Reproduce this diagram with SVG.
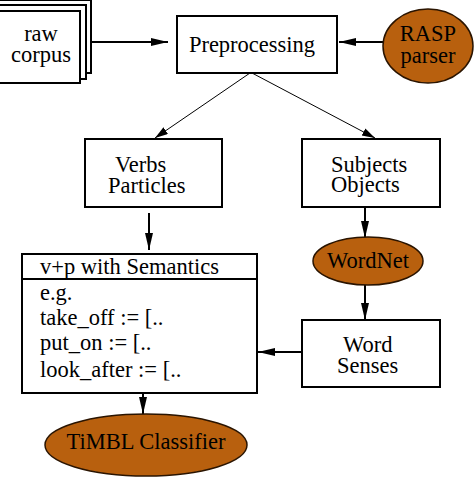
<svg xmlns="http://www.w3.org/2000/svg" width="474" height="477" viewBox="0 0 474 477">
<style>
  .box { fill: #ffffff; stroke: #000000; stroke-width: 2; }
  .ell { fill: #B8600E; stroke: #2a1400; stroke-width: 1.5; }
  text { font-family: Liberation Serif, serif; font-size: 22.5px; fill: #000000; }
  .c { text-anchor: middle; }
  .edge { fill: none; stroke: #000000; stroke-width: 2; }
  .thin { fill: none; stroke: #000000; stroke-width: 1; }
</style>
<defs>
  <marker id="ah" markerUnits="userSpaceOnUse" markerWidth="18" markerHeight="10" refX="17" refY="4" orient="auto">
    <path d="M0,0 L17,4 L0,8 z" fill="#000000"/>
  </marker>
  <marker id="ahs" markerUnits="userSpaceOnUse" markerWidth="14" markerHeight="10" refX="13" refY="4" orient="auto">
    <path d="M0,0 L13,4 L0,8 z" fill="#000000"/>
  </marker>
</defs>
<rect width="474" height="477" fill="#ffffff"/>

<g font-family="Liberation Serif, serif" font-size="22.5">
<g id="edges">
  <line class="edge" x1="91" y1="42" x2="168" y2="42" marker-end="url(#ah)"/>
  <line class="edge" x1="383" y1="42" x2="339" y2="42" marker-end="url(#ah)"/>
  <line class="thin" x1="250" y1="73" x2="155" y2="138" marker-end="url(#ahs)"/>
  <line class="thin" x1="252" y1="73" x2="375" y2="138" marker-end="url(#ahs)"/>
  <line class="edge" x1="149" y1="213" x2="149" y2="250" marker-end="url(#ah)"/>
  <line class="edge" x1="365" y1="207" x2="365" y2="238" marker-end="url(#ah)"/>
  <line class="edge" x1="365" y1="285" x2="365" y2="320" marker-end="url(#ah)"/>
  <line class="edge" x1="302" y1="352" x2="258" y2="352" marker-end="url(#ah)"/>
  <line class="edge" x1="143" y1="393" x2="143" y2="414" marker-end="url(#ah)"/>
</g>

<g id="raw-corpus">
  <rect class="box" x="-10" y="0" width="101" height="73"/>
  <rect class="box" x="-8" y="5" width="94" height="74"/>
  <rect class="box" x="-10" y="11" width="90" height="72"/>
  <text class="c" x="41" y="41">raw</text>
  <text class="c" x="41" y="62">corpus</text>
</g>

<g id="preprocessing">
  <rect class="box" x="177" y="16" width="160" height="57"/>
  <text class="c" x="252" y="52">Preprocessing</text>
</g>

<g id="rasp-parser">
  <ellipse class="ell" cx="428" cy="46" rx="45" ry="37"/>
  <text class="c" x="428" y="41">RASP</text>
  <text class="c" x="428" y="63">parser</text>
</g>

<g id="verbs-particles">
  <rect class="box" x="85" y="139" width="137" height="68"/>
  <text x="115" y="172">Verbs</text>
  <text x="108" y="193">Particles</text>
</g>

<g id="subjects-objects">
  <rect class="box" x="302" y="139" width="138" height="68"/>
  <text x="331" y="172">Subjects</text>
  <text x="331" y="192">Objects</text>
</g>

<g id="wordnet">
  <ellipse class="ell" cx="368" cy="261" rx="55" ry="24"/>
  <text class="c" x="368" y="268">WordNet</text>
</g>

<g id="word-senses">
  <rect class="box" x="302" y="320" width="138" height="67"/>
  <text x="343" y="352">Word</text>
  <text x="337" y="373">Senses</text>
</g>

<g id="vp-semantics">
  <rect class="box" x="22" y="254" width="235" height="139"/>
  <line class="edge" x1="22" y1="279" x2="257" y2="279"/>
  <text x="40" y="274">v+p with Semantics</text>
  <text x="40" y="300">e.g.</text>
  <text x="40" y="325">take_off := [..</text>
  <text x="40" y="350">put_on := [..</text>
  <text x="40" y="377">look_after := [..</text>
</g>

<g id="timbl">
  <ellipse class="ell" cx="146" cy="445" rx="101" ry="31"/>
  <text class="c" x="146" y="449">TiMBL Classifier</text>
</g>
</g>
</svg>
